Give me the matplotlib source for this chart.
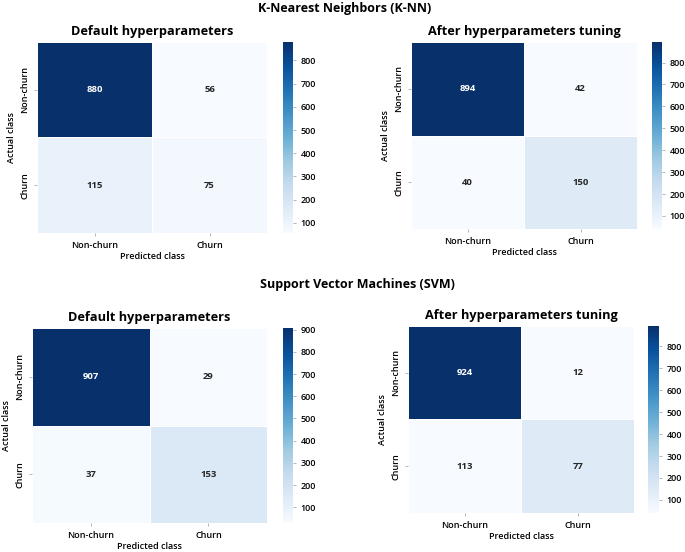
import matplotlib
matplotlib.use("Agg")
import matplotlib.pyplot as plt
import seaborn as sns
import numpy as np

plt.rcParams['font.family'] = ['Open Sans', 'DejaVu Sans']

# class labels shared by all four confusion matrices
labels = ["Non-churn", "Churn"]

# confusion matrices (rows: actual, cols: predicted)
knn_default = [[880, 56], [115, 75]]
knn_tuned = [[894, 42], [40, 150]]
svm_default = [[907, 29], [37, 153]]
svm_tuned = [[924, 12], [113, 77]]
# the SVM tuned panel in the figure is shaded like the K-NN tuned matrix
svm_tuned_shading = [[894, 42], [40, 150]]

# panel positions in figure coords [left, bottom, width, height]
panels = [
    (knn_default, knn_default, "Default hyperparameters", [0.054, 0.578, 0.336, 0.346], [0.413, 0.578, 0.0146, 0.346]),
    (knn_tuned, knn_tuned, "After hyperparameters tuning", [0.600, 0.585, 0.330, 0.339], [0.952, 0.585, 0.0146, 0.339]),
    (svm_default, svm_default, "Default hyperparameters", [0.047, 0.0525, 0.343, 0.353], [0.413, 0.0525, 0.0146, 0.353]),
    (svm_tuned_shading, svm_tuned, "After hyperparameters tuning", [0.596, 0.0707, 0.330, 0.339], [0.946, 0.0707, 0.016, 0.339]),
]

fig = plt.figure(figsize=(6.85, 5.52), dpi=100)

for shade, annot, title, pos, cpos in panels:
    ax = fig.add_axes(pos)
    cax = fig.add_axes(cpos)
    sns.heatmap(np.array(shade), annot=np.array(annot), fmt="d", cmap="Blues",
                linewidths=0.5, linecolor="white", ax=ax, cbar_ax=cax,
                xticklabels=labels, yticklabels=labels,
                annot_kws={"fontsize": 6.8, "fontweight": "bold"})
    ax.set_title(title, fontsize=9.2, fontweight="bold", pad=5)
    ax.set_xlabel("Predicted class", fontsize=6.5, fontweight="semibold", labelpad=2)
    ax.set_ylabel("Actual class", fontsize=6.5, fontweight="semibold", labelpad=3)
    ax.tick_params(axis="both", labelsize=6.5, length=2, width=0.5, color="#999999")
    for t in ax.get_xticklabels() + ax.get_yticklabels():
        t.set_fontweight("semibold")
    plt.setp(ax.get_yticklabels(), rotation=90, va="center")
    cax.tick_params(labelsize=6.5, length=2, width=0.5, color="#999999")
    for t in cax.get_yticklabels():
        t.set_fontweight("semibold")

fig.text(0.503, 0.985, "K-Nearest Neighbors (K-NN)", ha="center", va="center",
         fontsize=9, fontweight="bold")
fig.text(0.522, 0.484, "Support Vector Machines (SVM)", ha="center", va="center",
         fontsize=9, fontweight="bold")

fig.savefig("out.png", dpi=100)
